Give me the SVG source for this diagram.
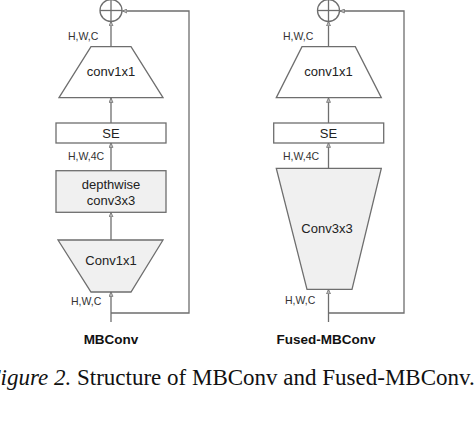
<svg xmlns="http://www.w3.org/2000/svg" width="474" height="421" viewBox="0 0 474 421">
<style>
.s{stroke:#6e6e6e;stroke-width:1.3;fill:#fff}
.g{fill:#f0f0f0}
.l{fill:none;stroke:#6e6e6e;stroke-width:1.3}
.t{font-family:"Liberation Sans",Arial,sans-serif;font-size:13px;fill:#222;text-anchor:middle}
.d{font-family:"Liberation Sans",Arial,sans-serif;font-size:10.5px;fill:#333}
.b{font-family:"Liberation Sans",Arial,sans-serif;font-size:13.5px;font-weight:bold;fill:#111;text-anchor:middle}
.c{font-family:"Liberation Serif","Times New Roman",serif;font-size:23px;fill:#111}
</style>
<defs>
<marker id="a" viewBox="0 0 8 8" refX="7.5" refY="4" markerWidth="5" markerHeight="5" orient="auto" markerUnits="userSpaceOnUse">
<path d="M0.5,0.8 L7.5,4 L0.5,7.2 Z" fill="#bbb" stroke="#6e6e6e" stroke-width="1.2"/>
</marker>
</defs>
<rect width="474" height="421" fill="#fff"/>
<g id="connectors">
<line class="l" x1="111" y1="322" x2="111" y2="292" marker-end="url(#a)"/>
<line class="l" x1="111" y1="240" x2="111" y2="212.5" marker-end="url(#a)"/>
<line class="l" x1="111" y1="170.5" x2="111" y2="143" marker-end="url(#a)"/>
<line class="l" x1="111" y1="123" x2="111" y2="98" marker-end="url(#a)"/>
<line class="l" x1="111" y1="46.5" x2="111" y2="21.5" marker-end="url(#a)"/>
<polyline class="l" points="111,313 189,313 189,11 122.5,11" marker-end="url(#a)"/>
<line class="l" x1="328.5" y1="322" x2="328.5" y2="289.5" marker-end="url(#a)"/>
<line class="l" x1="328.5" y1="168.5" x2="328.5" y2="143" marker-end="url(#a)"/>
<line class="l" x1="328.5" y1="123" x2="328.5" y2="98" marker-end="url(#a)"/>
<line class="l" x1="328.5" y1="46.5" x2="328.5" y2="21.5" marker-end="url(#a)"/>
<polyline class="l" points="328.5,313 404,313 404,11 340,11" marker-end="url(#a)"/>
</g>
<g id="mb-add">
<circle class="s" cx="111" cy="10.5" r="11"/>
<line class="l" x1="100" y1="10.5" x2="122" y2="10.5"/>
<line class="l" x1="111" y1="-0.5" x2="111" y2="21.5"/>
</g>
<g id="mb-conv1x1-top">
<polygon class="s" points="91,46.7 131,46.7 163,97.7 59,97.7"/>
<text class="t" x="111" y="76">conv1x1</text>
</g>
<g id="mb-se">
<rect class="s" x="56" y="123" width="110" height="20"/>
<text class="t" x="111" y="138">SE</text>
</g>
<g id="mb-depthwise">
<rect class="s g" x="56" y="170.7" width="110" height="41.6"/>
<text class="t" x="111" y="188.5">depthwise</text>
<text class="t" x="111" y="204.5">conv3x3</text>
</g>
<g id="mb-conv1x1-bottom">
<polygon class="s g" points="58,240 163,240 131,292 91,292"/>
<text class="t" x="111" y="265">Conv1x1</text>
</g>
<g id="mb-labels">
<text class="d" x="68" y="40">H,W,C</text>
<text class="d" x="68" y="160">H,W,4C</text>
<text class="d" x="71" y="305">H,W,C</text>
<text class="b" x="111" y="344">MBConv</text>
</g>
<g id="fmb-add">
<circle class="s" cx="328.5" cy="10.5" r="11"/>
<line class="l" x1="317.5" y1="10.5" x2="339.5" y2="10.5"/>
<line class="l" x1="328.5" y1="-0.5" x2="328.5" y2="21.5"/>
</g>
<g id="fmb-conv1x1">
<polygon class="s" points="302,46.7 355.3,46.7 381.3,97.7 276.3,97.7"/>
<text class="t" x="328.5" y="76">conv1x1</text>
</g>
<g id="fmb-se">
<rect class="s" x="273.7" y="123" width="110" height="20"/>
<text class="t" x="328.5" y="138">SE</text>
</g>
<g id="fmb-conv3x3">
<polygon class="s g" points="276.3,168.3 381.3,168.3 352,289.3 307,289.3"/>
<text class="t" x="327" y="233">Conv3x3</text>
</g>
<g id="fmb-labels">
<text class="d" x="283" y="40">H,W,C</text>
<text class="d" x="283" y="160">H,W,4C</text>
<text class="d" x="285" y="304">H,W,C</text>
<text class="b" x="326" y="344">Fused-MBConv</text>
</g>
<g id="caption">
<text class="c" x="-13.5" y="385"><tspan font-style="italic">Figure 2.</tspan> Structure of MBConv and Fused-MBConv.</text>
</g>
</svg>
